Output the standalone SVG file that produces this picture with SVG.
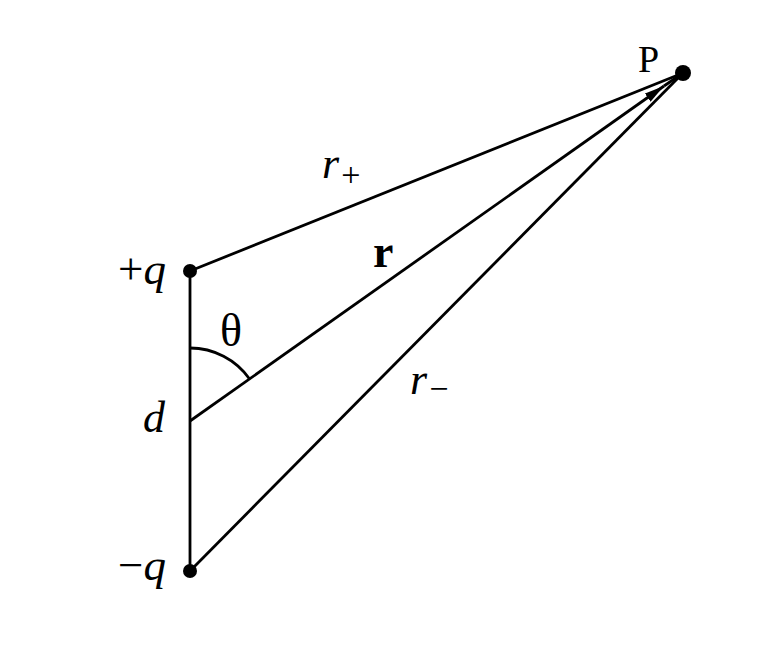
<svg xmlns="http://www.w3.org/2000/svg" width="772" height="656" viewBox="0 0 772 656">
<defs>
<style>
.ln{stroke:#000;stroke-width:2.8;fill:none}
.dot{fill:#000}
.t{font-family:"Liberation Serif","Times New Roman",serif;fill:#000}
.it{font-style:italic}
</style>
<marker id="arr" viewBox="0 0 20 10" refX="20" refY="5" markerWidth="20" markerHeight="10" markerUnits="userSpaceOnUse" orient="auto">
<path d="M0,0 L20,5 L0,10 Z" fill="#000"/>
</marker>
</defs>
<rect width="772" height="656" fill="#fff"/>
<g id="connectors">
<line class="ln" x1="190" y1="271" x2="190" y2="571"/>
<line class="ln" x1="190" y1="271" x2="683" y2="73"/>
<line class="ln" x1="190" y1="571" x2="683" y2="73"/>
<line class="ln" x1="190" y1="421" x2="664" y2="86" marker-end="url(#arr)"/>
<line class="ln" x1="664" y1="86" x2="683" y2="73"/>
<path class="ln" d="M190,348 A73,73 0 0 1 249.6,379"/>
</g>
<g id="node-plusq">
<circle class="dot" cx="190" cy="271" r="7"/>
<text class="t" x="118" y="284" font-size="45">+<tspan class="it">q</tspan></text>
</g>
<g id="node-minusq">
<circle class="dot" cx="190" cy="571" r="7"/>
<text class="t" x="118" y="580" font-size="45">−<tspan class="it">q</tspan></text>
</g>
<g id="node-P">
<circle class="dot" cx="683" cy="73" r="8"/>
<text class="t" x="638" y="72" font-size="38">P</text>
</g>
<g id="labels">
<text class="t" x="220" y="346" font-size="46">θ</text>
<text class="t it" x="143" y="432" font-size="44">d</text>
<text class="t" x="373" y="267" font-size="46" font-weight="bold">r</text>
<text class="t it" x="322" y="178" font-size="44">r<tspan font-size="34" font-style="normal" dx="2" dy="8">+</tspan></text>
<text class="t it" x="410" y="394" font-size="44">r<tspan font-size="34" font-style="normal" dx="2" dy="6">−</tspan></text>
</g>
</svg>
